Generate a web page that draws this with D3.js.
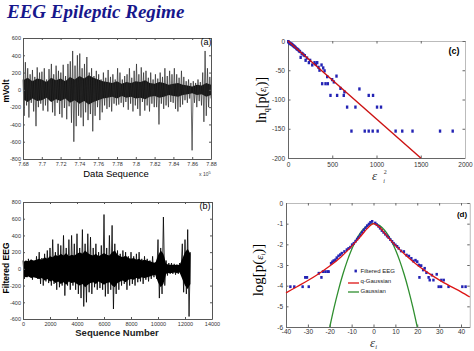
<!DOCTYPE html>
<html>
<head>
<meta charset="utf-8">
<script src="https://cdn.jsdelivr.net/npm/d3@7"></script>
<style>
  body { margin: 0; background: #fff; }
  svg { display: block; }
</style>
</head>
<body>
<svg id="chart" width="474" height="351"></svg>
<script>
// -----------------------------
// DATA
// -----------------------------

// (a) raw EEG, 160 evenly spaced samples between 7.68e5 and 7.88e5
const eegRaw = [
  120,-300,320,-180,250,-320,180,-150,
  230,-250,150,-420,260,-200,200,-160,
  210,-240,250,-180,120,-250,240,-120,
  300,-260,180,-300,280,-150,220,-280,
  200,-320,290,-210,160,-340,300,-190,
  330,-380,450,-600,280,-420,400,-300,
  420,-320,250,-420,300,-260,380,-350,
  200,-280,250,-480,160,-300,220,-200,
  180,-350,120,-260,200,-180,140,-220,
  230,-200,150,-250,180,-160,120,-180,
  250,-170,200,-150,120,-200,160,-140,
  180,-230,250,-160,140,-250,220,-180,
  300,-220,180,-300,260,-140,200,-240,
  220,-180,140,-250,200,-160,120,-200,
  180,-200,130,-400,200,-160,150,-220,
  250,-180,160,-200,220,-140,180,-150,
  250,-220,180,-250,140,-200,220,-170,
  150,-120,100,-150,120,-100,80,-700,
  100,-150,80,-200,120,-130,90,-180,
  200,-370,450,-300,250,-200,150,-100
];
// dense core of the raw trace (half-width), 41 points from 7.68 to 7.88
const rawCore = [
  110,140,100,130,120,90,140,110,130,100,
  150,120,160,130,170,140,120,100,90,80,
  100,70,90,80,100,90,110,80,70,90,
  80,60,70,80,60,50,40,60,50,80,60
];
const rawStart = 7.68, rawEnd = 7.88;
const rawTicks = [7.68, 7.70, 7.72, 7.74, 7.76, 7.78, 7.80, 7.82, 7.84, 7.86, 7.88];
const rawTickLabels = ["7.68", "7.7", "7.72", "7.74", "7.76", "7.78", "7.8", "7.82", "7.84", "7.86", "7.88"];
const rawYTicks = [-800, -600, -400, -200, 0, 200, 400, 600];

// (b) filtered EEG, one sample every 100 points from 0 to 12400
const eegFiltered = [
  100,-120,80,-100,120,-90,110,-130,90,-100,
  150,-120,200,-180,130,-200,180,-150,220,-170,
  250,-200,350,-180,200,-250,300,-220,280,-200,
  400,-320,250,-200,350,-250,400,-200,300,-250,
  420,-300,250,-350,470,-450,300,-400,420,-280,
  380,-300,250,-220,300,-250,200,-230,280,-250,
  650,-330,250,-300,400,-250,520,-480,300,-300,
  220,-250,180,-200,220,-180,200,-250,150,-200,
  200,-180,150,-200,180,-160,200,-150,120,-180,
  150,-130,120,-150,100,-120,150,-100,80,-120,
  350,-350,250,-300,620,-200,100,-80,70,-60,
  70,-60,60,-70,50,-60,70,-50,300,-280,
  350,-300,470,-570,200
];
const filteredStep = 100;
// dense core of the filtered trace (half-width), one value every 200 points
const filteredCore = [
  80,100,90,110,100,110,
  120,110,140,120,150,
  140,170,150,180,160,
  190,150,170,160,180,
  200,180,220,190,170,
  160,180,150,170,190,
  170,160,200,220,170,
  150,140,160,130,120,
  130,110,120,100,110,
  100,90,80,70,160,
  220,180,60,50,50,
  45,50,45,120,200,
  240,180
];
const coreStep = 200;
const seqTicks = [0, 2000, 4000, 6000, 8000, 10000, 12000, 14000];
const filteredYTicks = [-600, -400, -200, 0, 200, 400, 600, 800];

// (c) ln_q of p against eps^2
const lnqPoints = [
  [3,-1],[8,-2],[15,-3],[22,-4],[30,-5],[38,-5],[45,-6],[52,-7],[60,-8],[68,-9],
  [75,-10],[85,-11],[95,-13],[105,-14],[115,-15],[125,-17],[135,-18],[143,-28],
  [155,-21],[165,-22],[178,-24],[190,-25],[199,-33],[215,-29],[236,-37],[250,-33],
  [274,-41],[300,-37],[315,-40],[330,-37],[345,-45],[356,-50],[379,-41],[386,-73],
  [398,-46],[413,-51],[424,-73],[443,-61],[450,-73],[480,-93],[499,-66],[518,-70],
  [548,-60],[555,-93],[593,-81],[630,-93],[638,-87],[668,-113],[717,-154],[762,-113],
  [807,-82],[867,-154],[912,-93],[912,-154],[957,-154],[961,-93],[1006,-113],
  [1013,-154],[1051,-113],[1216,-154],[1291,-154],[1407,-154],[1718,-154],[1861,-154]
];
const lnqFit = [[0, 0], [1500, -200]];
const lnqXTicks = [0, 500, 1000, 1500, 2000];
const lnqYTicks = [-200, -150, -100, -50, 0];

// (d) log p against eps
const logPoints = [
  [-38,-4.05],[-36.2,-4.05],[-32.4,-4.05],[-29.6,-4.05],[-31.2,-3.6],[-30.4,-3.6],
  [-25,-3.4],[-23.8,-3.6],[-23.1,-3.32],[-22,-3.32],[-21,-3.32],[-20.5,-3.32],
  [-19.4,-2.92],[-18.8,-2.85],[-18.2,-2.79],[-17.4,-2.75],[-16.8,-2.65],[-16,-2.56],
  [-15.2,-2.5],[-14.5,-2.43],[-13.3,-2.35],[-12.2,-2.26],[-11.4,-2.2],[-10.6,-2.14],
  [-9.8,-2.02],[-9,-1.95],[-8.2,-1.85],[-7.5,-1.75],[-6.8,-1.66],[-6,-1.54],
  [-5.2,-1.42],[-4.4,-1.3],[-3.6,-1.2],[-2.9,-1.1],[-2.1,-1.02],[-1.4,-0.94],
  [-0.6,-0.89],[0.8,-0.97],[1.5,-1.05],[2.3,-1.13],[3,-1.22],[3.8,-1.33],
  [4.6,-1.42],[5.4,-1.51],[6.2,-1.6],[6.9,-1.67],[7.7,-1.77],[8.5,-1.86],
  [9.2,-1.95],[10,-2.03],[10.8,-2.1],[11.5,-2.19],[12.6,-2.32],[13.9,-2.35],
  [15.1,-2.52],[16.2,-2.57],[17.3,-2.68],[18.2,-2.81],[19.2,-2.77],[20,-2.84],
  [20.7,-3.0],[21.8,-3.03],[21,-3.6],[22.7,-3.24],[23.4,-3.16],[24.2,-3.37],
  [25.2,-3.6],[25.7,-3.73],[26.7,-3.49],[27.4,-3.73],[28.9,-3.45],[29.8,-4.05],
  [30.9,-4.05],[31,-3.73],[32.1,-3.73],[34.3,-4.05],[40.6,-4.05],[42.1,-4.05]
];
const qGaussX = [-40,-35,-30,-25,-20,-15,-10,-7,-5,-3,-1,0,1,3,5,7,10,15,20,25,30,35,40,44];
const qGaussY = [-4.35,-4.05,-3.75,-3.42,-3.05,-2.62,-2.1,-1.75,-1.5,-1.25,-1.05,-1.0,-1.03,-1.2,-1.45,-1.7,-2.05,-2.55,-3.0,-3.38,-3.72,-4.02,-4.3,-4.55];
const gaussX = [-20,-18,-16,-14,-12,-10,-8,-6,-4,-2,0,2,4,6,8,10,12,14,16,18,20];
const gaussY = [-6,-5.05,-4.2,-3.45,-2.8,-2.25,-1.8,-1.45,-1.2,-1.05,-1,-1.05,-1.2,-1.45,-1.8,-2.25,-2.8,-3.45,-4.2,-5.05,-6];
const logXTicks = [-40, -30, -20, -10, 0, 10, 20, 30, 40];
const logYTicks = [-6, -5, -4, -3, -2, -1, 0];
const legendLabels = ["Filtered EEG", "q-Gaussian", "Gaussian"];

// -----------------------------
// SHARED STYLE
// -----------------------------
const sans = "'Liberation Sans', Arial, sans-serif";
const serif = "'Liberation Serif', 'Times New Roman', serif";
const blue = "#2323b4";

const svg = d3.select("#chart");

// Title
svg.append("text")
    .attr("x", 7)
    .attr("y", 18)
    .attr("fill", "#17178c")
    .style("font-family", serif)
    .style("font-size", "19px")
    .style("font-weight", "bold")
    .style("font-style", "italic")
    .text("EEG Epileptic Regime");

// -----------------------------
// FRAME HELPER: box + inward ticks on all sides (MATLAB look)
// -----------------------------
const drawFrame = (x, y, o) => {
    const g = svg.append("g");
    const [xl, xr] = x.range();
    const [yb, yt] = y.range();

    const style = sel => {
        sel.attr("font-size", o.fontSize).attr("font-family", sans);
        sel.selectAll("text").attr("fill", "#333");
        sel.selectAll("line").attr("stroke", o.tickColor);
        sel.select(".domain").attr("stroke", o.boxColor);
    };

    // bottom
    g.append("g")
        .attr("transform", `translate(0,${yb})`)
        .call(d3.axisBottom(x).tickValues(o.xTicks).tickSizeInner(-o.tick).tickSizeOuter(0)
            .tickPadding(o.xPad).tickFormat(o.xFormat || (d => d)))
        .call(style)
        .call(s => s.select(".domain").attr("stroke", o.axisColor));
    // left
    g.append("g")
        .attr("transform", `translate(${xl},0)`)
        .call(d3.axisLeft(y).tickValues(o.yTicks).tickSizeInner(-o.tick).tickSizeOuter(0)
            .tickPadding(o.yPad).tickFormat(d => d))
        .call(style)
        .call(s => s.select(".domain").attr("stroke", o.axisColor));
    // top (mirror)
    g.append("g")
        .attr("transform", `translate(0,${yt})`)
        .call(d3.axisTop(x).tickValues(o.xTicks).tickSizeInner(-o.tick).tickSizeOuter(0).tickFormat(""))
        .call(style);
    // right (mirror)
    g.append("g")
        .attr("transform", `translate(${xr},0)`)
        .call(d3.axisRight(y).tickValues(o.yTicks).tickSizeInner(-o.tick).tickSizeOuter(0).tickFormat(""))
        .call(style);
    return g;
};

const panelTag = (x, y, label) => {
    svg.append("text")
        .attr("x", x).attr("y", y)
        .attr("text-anchor", "middle")
        .style("font-family", sans)
        .style("font-size", "9px")
        .text(label);
};

// -----------------------------
// PANEL (a): raw EEG
// -----------------------------
const xA = d3.scaleLinear().domain([rawStart, rawEnd]).range([23, 211]);
const yA = d3.scaleLinear().domain([-800, 600]).range([159, 38]);
const rawX = (i, n) => xA(rawStart + i * (rawEnd - rawStart) / (n - 1));

svg.append("path")
    .datum(rawCore)
    .attr("fill", "#111")
    .attr("d", d3.area()
        .x((d, i) => rawX(i, rawCore.length))
        .y0(d => yA(-d))
        .y1(d => yA(d)));

svg.append("path")
    .datum(eegRaw)
    .attr("fill", "none")
    .attr("stroke", "#2a2a2a")
    .attr("stroke-width", 0.7)
    .attr("d", d3.line()
        .x((d, i) => rawX(i, eegRaw.length))
        .y(d => yA(d)));

drawFrame(xA, yA, {
    xTicks: rawTicks, yTicks: rawYTicks, tick: 2, fontSize: 5.5, xPad: 3, yPad: 2,
    xFormat: (d, i) => rawTickLabels[i],
    tickColor: "#555", boxColor: "#555", axisColor: "#555"
});
panelTag(206, 45, "(a)");

svg.append("text")
    .attr("x", 116).attr("y", 177)
    .attr("text-anchor", "middle")
    .style("font-family", sans).style("font-size", "9.5px")
    .text("Data Sequence");
svg.append("text")
    .attr("x", 199).attr("y", 176)
    .style("font-family", sans).style("font-size", "5px").attr("fill", "#444")
    .text("x 10")
    .append("tspan").attr("dy", -2).style("font-size", "4px").text("5");
svg.append("text")
    .attr("transform", "translate(9,91) rotate(-90)")
    .attr("text-anchor", "middle")
    .style("font-family", sans).style("font-size", "8.5px").style("font-weight", "bold")
    .text("mVolt");

// -----------------------------
// PANEL (b): filtered EEG
// -----------------------------
const xB = d3.scaleLinear().domain([0, 14000]).range([23, 212]);
const yB = d3.scaleLinear().domain([-600, 800]).range([319, 202]);

svg.append("path")
    .datum(filteredCore)
    .attr("fill", "#000")
    .attr("d", d3.area()
        .x((d, i) => xB(i * coreStep))
        .y0(d => yB(-d))
        .y1(d => yB(d)));

svg.append("path")
    .datum(eegFiltered)
    .attr("fill", "none")
    .attr("stroke", "#000")
    .attr("stroke-width", 0.8)
    .attr("d", d3.line()
        .x((d, i) => xB(i * filteredStep))
        .y(d => yB(d)));

drawFrame(xB, yB, {
    xTicks: seqTicks, yTicks: filteredYTicks, tick: 2, fontSize: 5.5, xPad: 3, yPad: 2,
    tickColor: "#555", boxColor: "#555", axisColor: "#555"
});
panelTag(205, 209, "(b)");

svg.append("text")
    .attr("x", 117).attr("y", 336)
    .attr("text-anchor", "middle")
    .style("font-family", sans).style("font-size", "9.5px").style("font-weight", "bold")
    .attr("fill", "#222")
    .text("Sequence Number");
svg.append("text")
    .attr("transform", "translate(9,268) rotate(-90)")
    .attr("text-anchor", "middle")
    .style("font-family", sans).style("font-size", "8.5px").style("font-weight", "bold")
    .text("Filtered EEG");

// -----------------------------
// PANEL (c): ln_q p vs eps^2
// -----------------------------
const xC = d3.scaleLinear().domain([0, 2000]).range([288, 465]);
const yC = d3.scaleLinear().domain([-200, 0]).range([158, 41]);

drawFrame(xC, yC, {
    xTicks: lnqXTicks, yTicks: lnqYTicks, tick: 2.5, fontSize: 6.5, xPad: 4, yPad: 3,
    tickColor: "#666", boxColor: "#bbb", axisColor: "#666"
});

svg.append("g").selectAll("rect")
    .data(lnqPoints)
    .join("rect")
    .attr("x", d => xC(d[0]) - 1.2)
    .attr("y", d => yC(d[1]) - 1.6)
    .attr("width", 2.4)
    .attr("height", 3.2)
    .attr("fill", blue);

svg.append("path")
    .datum(lnqFit)
    .attr("fill", "none")
    .attr("stroke", "#cc1111")
    .attr("stroke-width", 1.4)
    .attr("d", d3.line().x(d => xC(d[0])).y(d => yC(d[1])));

svg.append("text")
    .attr("x", 454).attr("y", 54)
    .attr("text-anchor", "middle")
    .style("font-family", sans).style("font-size", "9px").style("font-weight", "bold")
    .text("(c)");

// y label: ln_q[p(eps_i)]
const labC = svg.append("text")
    .attr("transform", "translate(266,100) rotate(-90)")
    .attr("text-anchor", "middle")
    .style("font-family", serif).style("font-size", "14px");
labC.append("tspan").text("ln");
labC.append("tspan").attr("dy", 3).style("font-size", "8px").text("q");
labC.append("tspan").attr("dy", -3).text("[p(");
labC.append("tspan").style("font-style", "italic").style("font-size", "10px").text("ε");
labC.append("tspan").attr("dy", 2).style("font-size", "6px").text("i");
labC.append("tspan").attr("dy", -2).text(")]");

// x label: eps_i^2
const xlabC = svg.append("text")
    .attr("x", 372).attr("y", 180)
    .style("font-family", serif).style("font-size", "13px").style("font-style", "italic")
    .attr("fill", "#333");
xlabC.append("tspan").text("ε");
xlabC.append("tspan").attr("dx", 6).attr("dy", 3).style("font-size", "6px").text("i");
xlabC.append("tspan").attr("dx", -1).attr("dy", -9).style("font-size", "6px").style("font-style", "normal").text("2");

// -----------------------------
// PANEL (d): log p vs eps
// -----------------------------
const xD = d3.scaleLinear().domain([-40, 44]).range([286, 469.75]);
const yD = d3.scaleLinear().domain([-6, 0]).range([327, 203]);

drawFrame(xD, yD, {
    xTicks: logXTicks, yTicks: logYTicks, tick: 2.5, fontSize: 6.5, xPad: 2, yPad: 3,
    tickColor: "#666", boxColor: "#bbb", axisColor: "#666"
});

const curve = d3.line().curve(d3.curveMonotoneX).x(d => xD(d[0])).y(d => yD(d[1]));

svg.append("path")
    .datum(gaussX.map((v, i) => [v, gaussY[i]]))
    .attr("fill", "none")
    .attr("stroke", "#2f8f2f")
    .attr("stroke-width", 1.3)
    .attr("d", curve);

svg.append("g").selectAll("rect")
    .data(logPoints)
    .join("rect")
    .attr("x", d => xD(d[0]) - 1.2)
    .attr("y", d => yD(d[1]) - 1.4)
    .attr("width", 2.4)
    .attr("height", 2.8)
    .attr("fill", blue);

svg.append("path")
    .datum(qGaussX.map((v, i) => [v, qGaussY[i]]))
    .attr("fill", "none")
    .attr("stroke", "#dd1515")
    .attr("stroke-width", 1.3)
    .attr("d", curve);

svg.append("text")
    .attr("x", 462).attr("y", 217)
    .attr("text-anchor", "middle")
    .style("font-family", sans).style("font-size", "8px").style("font-weight", "bold")
    .text("(d)");

// legend
const legend = svg.append("g").attr("transform", "translate(348,271)");
legend.append("rect").attr("x", 6.5).attr("y", -1.4).attr("width", 2.4).attr("height", 2.8).attr("fill", blue);
legend.append("line").attr("x1", 0).attr("x2", 11).attr("y1", 12).attr("y2", 12)
    .attr("stroke", "#dd1515").attr("stroke-width", 1.3);
legend.append("line").attr("x1", 0).attr("x2", 11).attr("y1", 21).attr("y2", 21)
    .attr("stroke", "#2f8f2f").attr("stroke-width", 1.3);
legend.selectAll("text")
    .data(legendLabels)
    .join("text")
    .attr("x", 12.5)
    .attr("y", (d, i) => 2.2 + i * 10)
    .style("font-family", sans).style("font-size", "6px")
    .attr("fill", "#222")
    .text(d => d);

// y label: log[p(eps_i)]
const labD = svg.append("text")
    .attr("transform", "translate(263,270) rotate(-90)")
    .attr("text-anchor", "middle")
    .style("font-family", serif).style("font-size", "15px");
labD.append("tspan").text("log[p(");
labD.append("tspan").style("font-style", "italic").style("font-size", "11px").text("ε");
labD.append("tspan").attr("dy", 2).style("font-size", "6px").text("i");
labD.append("tspan").attr("dy", -2).text(")]");

// x label: eps_i
const xlabD = svg.append("text")
    .attr("x", 370).attr("y", 347)
    .style("font-family", serif).style("font-size", "13px").style("font-style", "italic")
    .attr("fill", "#333");
xlabD.append("tspan").text("ε");
xlabD.append("tspan").attr("dy", 1.5).style("font-size", "6.5px").text("i");
</script>
</body>
</html>
